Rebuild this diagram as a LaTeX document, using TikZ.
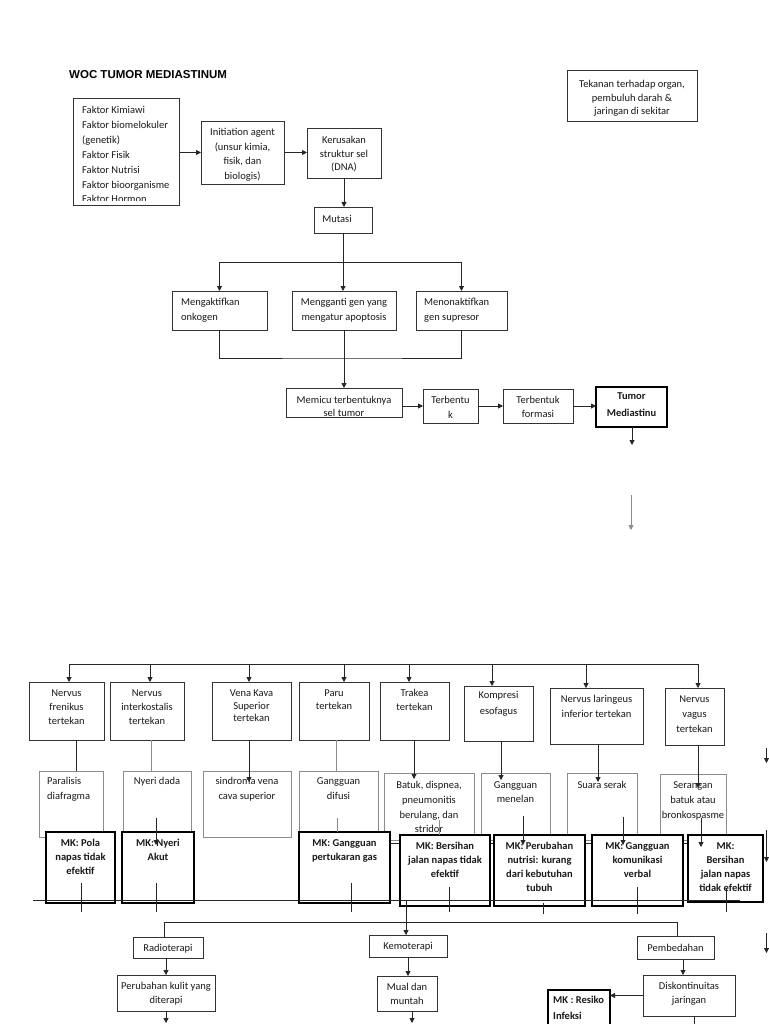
\documentclass[tikz,border=0pt]{standalone}
\usepackage{fontspec}
\setmainfont{Carlito}
\newfontfamily\ttlfont{Liberation Sans}
\usetikzlibrary{arrows.meta,calc}
\newcommand\bxn[6]{\node[#1,minimum width={(#5)-(#3)},minimum height={(#6)-(#4)}] (#2) at ({((#3)+(#5))/2},{((#4)+(#6))/2}) {};}
\newcommand\tx[6][]{\node[txt,font={\fontsize{10.5}{#5}\selectfont},#1] (#2) at (#3,{(#4)-4.6}) {\rule{0pt}{8pt}#6};}
\newcommand\txb[6][]{\node[txt,font={\fontsize{10.5}{#5}\selectfont\bfseries},#1] (#2) at (#3,{(#4)-4.6}) {\rule{0pt}{8pt}#6};}
\tikzset{
 bx/.style={draw=black!80, line width=0.9pt, inner sep=0pt, outer sep=0pt},
 gbx/.style={draw=black!45, line width=0.9pt, inner sep=0pt, outer sep=0pt},
 mk/.style={draw=black, line width=2pt, fill=white, inner sep=0pt, outer sep=0pt},
 tbx/.style={draw=black, line width=1.4pt, inner sep=0pt, outer sep=0pt},
 ln/.style={black!85, line width=0.9pt},
 gln/.style={black!45, line width=0.9pt},
 arr/.style={ln, -{Triangle[length=5pt,width=5pt]}},
 garr/.style={gln, -{Triangle[length=5pt,width=5pt]}},
 txt/.style={inner sep=0pt, anchor=north, align=center, text=black!90},
 txl/.style={anchor=north west, align=left},
}
\begin{document}
\begin{tikzpicture}[x=1pt,y=-1pt]
\useasboundingbox[fill=white] (0,0) rectangle (768,1024);
% title
\node[inner sep=0pt, anchor=west, font=\ttlfont\bfseries\fontsize{11.5}{13}\selectfont] (title) at (69,75) {WOC TUMOR MEDIASTINUM};
% top boxes
\bxn{bx}{fak}{73}{98}{179}{205}
\bxn{bx}{ini}{201}{121}{284}{184}
\bxn{bx}{ker}{307}{128}{381}{178}
\bxn{bx}{mut}{314}{207}{372}{233}
\bxn{bx}{b1}{172}{291}{267}{330}
\bxn{bx}{b2}{292}{291}{396}{330}
\bxn{bx}{b3}{416}{291}{507}{330}
\bxn{bx}{mem}{286}{388}{402}{417}
\bxn{bx}{tbA}{423}{389}{478}{423}
\bxn{bx}{tbB}{503}{389}{573}{423}
\bxn{tbx}{tum}{596}{387}{667}{427}
\bxn{bx}{tek}{567}{70}{697}{121}
\begin{scope}
\clip (73,98) rectangle (179,200.5);
\tx[txl]{tfak}{82}{110}{14.9}{Faktor Kimiawi\\Faktor biomelokuler\\(genetik)\\Faktor Fisik\\Faktor Nutrisi\\Faktor bioorganisme\\Faktor Hormon}
\end{scope}
\tx{tini}{242.5}{132}{14.7}{Initiation agent\\(unsur kimia,\\fisik, dan\\biologis)}
\tx{tker}{344}{140}{13.5}{Kerusakan\\struktur sel\\(DNA)}
\tx{tmut}{337}{219}{14}{Mutasi}
\tx[txl]{tx1}{181}{302}{15}{Mengaktifkan\\onkogen}
\tx{tx2}{344}{302}{15}{Mengganti gen yang\\mengatur apoptosis}
\tx[txl]{tx3}{424}{302}{15}{Menonaktifkan\\gen supresor}
\tx{tmem}{344}{400}{12.5}{Memicu terbentuknya\\sel tumor}
\tx{ttbA}{450.5}{400}{15}{Terbentu\\k}
\tx{ttbB}{538}{400}{14}{Terbentuk\\formasi}
\txb{ttum}{631.5}{396}{17}{Tumor\\Mediastinu}
\tx{ttek}{632}{84}{13.5}{Tekanan terhadap organ,\\pembuluh darah \&\\jaringan di sekitar}
% top connectors
\draw[arr] (fak.east |- ini.west) -- (ini.west);
\draw[arr] (ini.east) -- (ini.east -| ker.west);
\draw[arr] (ker.south) -- (ker.south |- mut.north);
\coordinate (j1) at (343,262);
\coordinate (j2) at (344,358);
\draw[ln] (mut.south) -- (mut.south |- j1);
\draw[arr] (j1) -| (b1.north);
\draw[arr] (j1) -| (b3.north);
\draw[arr] (j1) -- (j1 |- b2.north);
\draw[ln] (b1.south) |- (j2) -| (b3.south);
\draw[ln] (b2.south) -- (b2.south |- j2);
\draw[arr] (j2) -- (j2 |- mem.north);
\draw[arr] (mem.east |- tbA.west) -- (tbA.west);
\draw[arr] (tbA.east) -- (tbB.west);
\draw[arr] (tbB.east) -- (tbB.east -| tum.west);
\coordinate (a1) at (632,445);
\draw[arr] (tum.south -| a1) -- (a1);
\coordinate (a2s) at (631,495);
\coordinate (a2) at (631,530);
\draw[garr] (a2s) -- (a2);
% row 1
\bxn{bx}{n1}{29}{682}{104}{740}
\bxn{bx}{n2}{110}{682}{184}{740}
\bxn{bx}{n3}{212}{682}{291}{740}
\bxn{bx}{n4}{299}{682}{369}{740}
\bxn{bx}{n5}{380}{682}{449}{740}
\bxn{bx}{n6}{464}{686}{533}{741}
\bxn{bx}{n7}{550}{688}{643}{744}
\bxn{bx}{n8}{665}{688}{724}{745}
\tx{tn1}{66.5}{693}{14}{Nervus\\frenikus\\tertekan}
\tx{tn2}{147}{693}{14}{Nervus\\interkostalis\\tertekan}
\tx{tn3}{251.5}{693}{12.5}{Vena Kava\\Superior\\tertekan}
\tx{tn4}{334}{693}{12.5}{Paru\\tertekan}
\tx{tn5}{414.5}{693}{14}{Trakea\\tertekan}
\tx{tn6}{498.5}{695}{16}{Kompresi\\esofagus}
\tx{tn7}{596.5}{699}{15}{Nervus laringeus\\inferior tertekan}
\tx{tn8}{694.5}{699}{15}{Nervus\\vagus\\tertekan}
% bus
\coordinate (bL) at (69,664);
\coordinate (bR) at (698,664);
\draw[ln] (bL) -- (bR);
\foreach \xx/\nn in {69/n1,150/n2,249/n3,344/n4,409/n5,492/n6,586/n7,698/n8}
  \draw[arr] (bL -| \xx,0) -- (\nn.north -| \xx,0);
% row 2
\bxn{gbx}{r1}{39}{771}{103}{837}
\bxn{gbx}{r2}{123}{771}{191}{837}
\bxn{gbx}{r3}{203}{771}{291}{837}
\bxn{gbx}{r4}{299}{771}{378}{837}
\bxn{gbx}{r5}{384}{773}{474}{840}
\bxn{gbx}{r6}{481}{773}{550}{840}
\bxn{gbx}{r7}{567}{773}{637}{840}
\bxn{gbx}{r8}{660}{774}{726}{840}
\tx[txl]{tr1}{47}{781}{15}{Paralisis\\diafragma}
\tx{tr2}{157}{781}{15}{Nyeri dada}
\tx{tr3}{247}{781}{15}{sindroma vena\\cava superior}
\tx{tr4}{338.5}{781}{15}{Gangguan\\difusi}
\tx{tr5}{429}{785}{14.7}{Batuk, dispnea,\\pneumonitis\\berulang, dan\\stridor}
\tx{tr6}{515.5}{785}{14}{Gangguan\\menelan}
\tx{tr7}{602}{785}{14}{Suara serak}
\tx{tr8}{693}{785}{15}{Serangan\\batuk atau\\bronkospasme}
% row1 -> row2
\draw[ln] (n1.south -| 76,0) -- (r1.north -| 76,0);
\draw[gln] (n2.south -| 151,0) -- (r2.north -| 151,0);
\draw[arr] (n3.south -| 249,0) -- ($(r3.north -| 249,0)+(0,11)$);
\draw[gln] (n4.south -| 336,0) -- (r4.north -| 336,0);
\draw[arr] (n5.south -| 414,0) -- ($(r5.north -| 414,0)+(0,6)$);
\draw[arr] (n6.south -| 501,0) -- ($(r6.north -| 501,0)+(0,7)$);
\draw[arr] (n7.south -| 598,0) -- ($(r7.north -| 598,0)+(0,9)$);
\draw[arr] (n8.south -| 698,0) -- ($(r8.north -| 698,0)+(0,14)$);
% line behind MK boxes
\draw[ln] (390,843) -- (688,843);
% MK boxes
\bxn{mk}{m1}{46}{832}{115}{903}
\bxn{mk}{m2}{122}{832}{194}{903}
\bxn{mk}{m3}{299}{832}{390}{903}
\bxn{mk}{m4}{400}{835}{490}{906}
\bxn{mk}{m5}{494}{835}{585}{906}
\bxn{mk}{m6}{592}{835}{683}{906}
\bxn{mk}{m7}{688}{835}{763}{902}
\txb{tm1}{80.5}{843}{14}{MK: Pola\\napas tidak\\efektif}
\txb{tm2}{158}{843}{14}{MK: Nyeri\\Akut}
\txb{tm3}{344.5}{843}{14}{MK: Gangguan\\pertukaran gas}
\txb{tm4}{445}{846}{14}{MK: Bersihan\\jalan napas tidak\\efektif}
\txb{tm5}{539.5}{846}{14}{MK: Perubahan\\nutrisi: kurang\\dari kebutuhan\\tubuh}
\txb{tm6}{637.5}{846}{14}{MK: Gangguan\\komunikasi\\verbal}
\txb{tm7}{725.5}{846}{14}{MK:\\Bersihan\\jalan napas\\tidak efektif}
% row2 -> MK
\coordinate (s2) at (156,818); \coordinate (e2) at (156,845);
\draw[arr] (s2) -- (e2);
\draw[gln] (r4.south -| 337,0) ++(0,-19) coordinate (s4) -- (m3.north -| 337,0);
\draw[gln] (439,820) coordinate (s5) -- (m4.north -| 439,0);
\coordinate (s6) at (523,816); \coordinate (e6) at (523,845);
\draw[arr] (s6) -- (e6);
\coordinate (s7) at (623,817); \coordinate (e7) at (623,845);
\draw[arr] (s7) -- (e7);
\coordinate (s8) at (701,818); \coordinate (e8) at (701,847);
\draw[arr] (s8) -- (e8);
% MK down lines
\foreach \xx/\yy/\ee in {81/883/912,156/883/912,351/883/912,449/887/912,543/903/914,637/887/914,726/888/912}
  \draw[ln] (\xx,\yy) -- (\xx,\ee);
% long horizontal
\coordinate (hL) at (33,900);
\coordinate (hR) at (740,900);
\draw[ln] (hL) -- (hR);
% bottom
\bxn{bx}{rad}{133}{937}{203}{958}
\bxn{bx}{kem}{369}{935}{447}{957}
\bxn{bx}{pem}{637}{936}{714}{959}
\bxn{bx}{kul}{117}{975}{215}{1011}
\bxn{bx}{mual}{377}{976}{437}{1011}
\bxn{bx}{dis}{643}{975}{735}{1016}
\bxn{mk}{res}{548}{990}{610}{1032}
\tx{trad}{168}{948}{14}{Radioterapi}
\tx{tkem}{408}{946}{14}{Kemoterapi}
\tx{tpem}{675.5}{948}{14}{Pembedahan}
\tx{tkul}{166}{986}{14}{Perubahan kulit yang\\diterapi}
\tx{tmual}{407}{987}{14}{Mual dan\\muntah}
\tx{tdis}{689}{986}{14}{Diskontinuitas\\jaringan}
\txb[txl]{tres}{553}{1000}{16}{MK : Resiko\\Infeksi}
\coordinate (k1) at (406,900);
\coordinate (c1) at (164,922);
\coordinate (c2) at (677,922);
\draw[arr] (k1) -- (k1 |- kem.north);
\draw[ln] (rad.north -| c1) -- (c1) -- (c2) -- (pem.north -| c2);
\draw[arr] (rad.south -| 166,0) -- (kul.north -| 166,0);
\coordinate (k2) at (166,1023);
\draw[arr] (kul.south -| k2) -- (k2);
\draw[arr] (kem.south -| 408,0) -- (mual.north -| 408,0);
\coordinate (k3) at (412,1023);
\draw[arr] (mual.south -| k3) -- (k3);
\draw[arr] (pem.south -| 683,0) -- (dis.north -| 683,0);
\draw[arr] (dis.west) -- (dis.west -| res.east);
\coordinate (k4) at (694,1024);
\draw[ln] (dis.south -| k4) -- (k4);
% right edge arrows
\coordinate (q1) at (766.5,748); \coordinate (q1e) at (766.5,763);
\coordinate (q2) at (766.5,830); \coordinate (q2e) at (766.5,862);
\coordinate (q3) at (766.5,933); \coordinate (q3e) at (766.5,953);
\draw[arr] (q1) -- (q1e);
\draw[arr] (q2) -- (q2e);
\draw[arr] (q3) -- (q3e);
\end{tikzpicture}
\end{document}
